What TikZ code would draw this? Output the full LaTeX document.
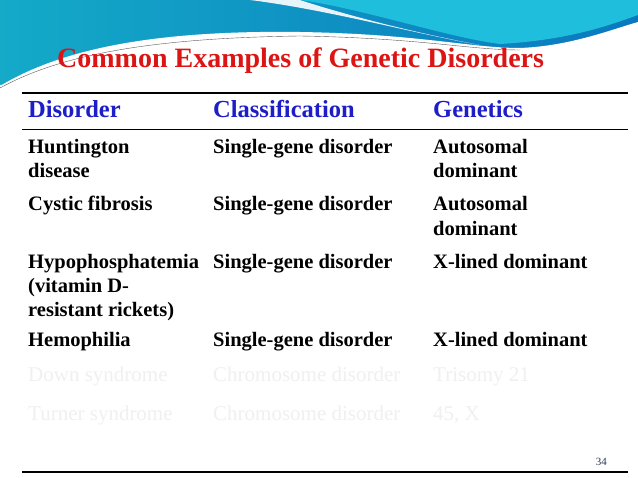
\documentclass[tikz,border=0pt]{standalone}
\usepackage{fontspec}
\setmainfont{Liberation Serif}
\definecolor{tealA}{RGB}{20,170,200}
\definecolor{blueA}{RGB}{10,120,190}
\definecolor{tealB}{RGB}{30,190,220}
\definecolor{headblue}{RGB}{30,30,200}
\definecolor{titlered}{RGB}{220,20,20}
\definecolor{faintc}{RGB}{240,240,240}
\definecolor{pgc}{RGB}{40,60,90}
\begin{document}
\begin{tikzpicture}[x=1pt,y=-1pt,
 cell/.style={anchor=base west,inner sep=0pt,font=\bfseries\fontsize{20.5}{24}\selectfont},
 head/.style={cell,font=\bfseries\fontsize{24.5}{28}\selectfont,text=headblue},
 faint/.style={cell,text=faintc,font=\fontsize{21}{24}\selectfont}]
\useasboundingbox (0,0) rectangle (638,478);
\fill[white] (0,0) rectangle (638,478);
\shade[left color=tealA,right color=blueA] (0,0) rectangle (638,85);
\fill[white] (0,86) .. controls (60,50) and (150,30) .. (300,32) .. controls (420,34) and (470,48) .. (520,48) .. controls (570,46) and (610,30) .. (638,22) -- (638,85) -- (0,85) -- cycle;
\fill[white,opacity=0.9] (250,0) .. controls (330,10) and (420,35) .. (480,45) .. controls (400,30) and (330,10) .. (300,0) -- cycle;
\fill[tealB] (300,0) .. controls (360,8) and (450,38) .. (500,44) .. controls (570,40) and (610,25) .. (638,15) -- (638,0) -- cycle;
\draw[gray!70!black,thin] (0,88) .. controls (60,55) and (150,38) .. (300,36) .. controls (420,38) and (470,50) .. (520,50);
\node[anchor=base west,inner sep=0pt,text=titlered,font=\bfseries\fontsize{28}{32}\selectfont] (title) at (57,68) {Common Examples of Genetic Disorders};
\draw[line width=1.4pt] (22,93) -- (628,93);
\draw[line width=0.6pt] (22,129) -- (628,129);
\draw[line width=1.4pt] (22,472) -- (628,472);
\node[head] (h1) at (28,118) {Disorder};
\node[head] (h2) at (213,118) {Classification};
\node[head] (h3) at (433,118) {Genetics};
\node[cell] (a1) at (28,154) {Huntington};
\node[cell] (a1b) at (28,178) {disease};
\node[cell] (a2) at (213,154) {Single-gene disorder};
\node[cell] (a3) at (433,154) {Autosomal};
\node[cell] (a3b) at (433,178) {dominant};
\node[cell] (b1) at (28,211) {Cystic fibrosis};
\node[cell] (b2) at (213,211) {Single-gene disorder};
\node[cell] (b3) at (433,211) {Autosomal};
\node[cell] (b3b) at (433,236) {dominant};
\node[cell] (c1) at (28,269) {Hypophosphatemia};
\node[cell] (c1b) at (28,293) {(vitamin D-};
\node[cell] (c1c) at (28,317) {resistant rickets)};
\node[cell] (c2) at (213,269) {Single-gene disorder};
\node[cell] (c3) at (433,269) {X-lined dominant};
\node[cell] (d1) at (28,347) {Hemophilia};
\node[cell] (d2) at (213,347) {Single-gene disorder};
\node[cell] (d3) at (433,347) {X-lined dominant};
\node[faint] (e1) at (28,382) {Down syndrome};
\node[faint] (e2) at (213,382) {Chromosome disorder};
\node[faint] (e3) at (433,382) {Trisomy 21};
\node[faint] (f1) at (28,421) {Turner syndrome};
\node[faint] (f2) at (213,421) {Chromosome disorder};
\node[faint] (f3) at (433,421) {45, X};
\node[anchor=base east,inner sep=0pt,font=\fontsize{11}{12}\selectfont,text=pgc] (pg) at (607,466) {34};
\end{tikzpicture}
\end{document}
